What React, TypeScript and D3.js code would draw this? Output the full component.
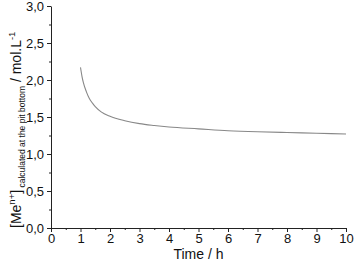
import { useEffect, useRef } from "react";
import * as d3 from "d3";

const times = [1, 1.05, 1.1, 1.2, 1.3, 1.4, 1.5, 1.7, 2, 2.5, 3, 3.5, 4, 5, 6, 7, 8, 9, 10];
const values = [2.17, 2.05, 1.96, 1.84, 1.75, 1.69, 1.64, 1.57, 1.51, 1.45, 1.41, 1.385, 1.365, 1.34, 1.315, 1.3, 1.29, 1.28, 1.27];
const xTicks = [0, 1, 2, 3, 4, 5, 6, 7, 8, 9, 10];
const yTicks = [0, 0.5, 1, 1.5, 2, 2.5, 3];

const width = 354;
const height = 261;
const margin = { top: 6, right: 8, bottom: 33, left: 51 };
const font = "Liberation Sans, Arial, sans-serif";

const App = () => {
  const svgRef = useRef<SVGSVGElement | null>(null);

  useEffect(() => {
    if (!svgRef.current) return;
    const svg = d3.select(svgRef.current);
    svg.selectAll("*").remove();

    const w = width - margin.left - margin.right;
    const h = height - margin.top - margin.bottom;
    const g = svg.append("g").attr("transform", `translate(${margin.left},${margin.top})`);

    const x = d3.scaleLinear().domain([0, 10]).range([0, w]);
    const y = d3.scaleLinear().domain([0, 3]).range([h, 0]);
    const fmtY = (d: any) => d3.format(".1f")(d).replace(".", ",");

    // minor ticks
    g.append("g")
      .attr("transform", `translate(0,${h})`)
      .call(d3.axisBottom(x).tickValues(d3.range(0.5, 10, 1)).tickSize(2).tickFormat(() => ""))
      .call(s => s.select(".domain").remove());
    g.append("g")
      .call(d3.axisLeft(y).tickValues(d3.range(0.25, 3, 0.5)).tickSize(2).tickFormat(() => ""))
      .call(s => s.select(".domain").remove());

    // major axes
    const xa = g.append("g")
      .attr("transform", `translate(0,${h})`)
      .call(d3.axisBottom(x).tickValues(xTicks).tickSize(4).tickSizeOuter(0).tickPadding(2));
    const ya = g.append("g")
      .call(d3.axisLeft(y).tickValues(yTicks).tickFormat(fmtY).tickSize(4).tickSizeOuter(0).tickPadding(3));

    [xa, ya].forEach(a => {
      a.selectAll("text").attr("font-family", font).attr("font-size", 13).attr("fill", "#111");
    });
    g.selectAll(".domain, .tick line").attr("stroke", "#222");

    const line = d3.line<number>()
      .x((_, i) => x(times[i]))
      .y(d => y(d))
      .curve(d3.curveMonotoneX);

    g.append("path")
      .datum(values)
      .attr("fill", "none")
      .attr("stroke", "#888")
      .attr("stroke-width", 1.1)
      .attr("d", line);

    // x label
    svg.append("text")
      .attr("x", margin.left + w / 2)
      .attr("y", 259)
      .attr("text-anchor", "middle")
      .attr("font-family", font)
      .attr("font-size", 14)
      .attr("fill", "#111")
      .text("Time / h");

    // y label
    const yl = svg.append("text")
      .attr("transform", `translate(21,228) rotate(-90)`)
      .attr("font-family", font)
      .attr("font-size", 14)
      .attr("fill", "#111");
    yl.append("tspan").text("[Me");
    yl.append("tspan").attr("font-size", 9.5).attr("dy", -6).text("n+");
    yl.append("tspan").attr("dy", 6).text("]");
    yl.append("tspan").attr("font-size", 8.5).attr("dy", 4).text(" calculated at the pit bottom");
    yl.append("tspan").attr("dy", -4).text(" / mol.L");
    yl.append("tspan").attr("font-size", 9.5).attr("dy", -6).text("-1");
  }, []);

  return (
    <svg
      ref={svgRef}
      width={width}
      height={height}
      style={{ position: "absolute", left: 0, top: 0, background: "#fff" }}
    />
  );
};

export default App;
